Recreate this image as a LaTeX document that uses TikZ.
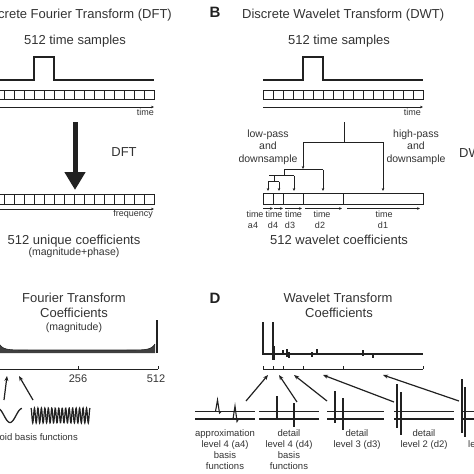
\documentclass[tikz,border=0pt]{standalone}
\usepackage{fontspec}
\setmainfont{Liberation Sans}
\usetikzlibrary{arrows.meta}
\definecolor{ink}{gray}{0.13}
\definecolor{txt}{gray}{0.2}
\begin{document}
\begin{tikzpicture}[x=1pt,y=-1pt,
  every node/.style={inner sep=0pt, text=txt},
  tx13/.style={font=\fontsize{13}{15}\selectfont, anchor=base},
  tx11/.style={font=\fontsize{11}{13}\selectfont, anchor=base},
  tx105/.style={font=\fontsize{10.5}{12}\selectfont, anchor=base},
  tx95/.style={font=\fontsize{9.5}{11}\selectfont, anchor=base},
  tx9/.style={font=\fontsize{9}{10}\selectfont, anchor=base},
  panellbl/.style={font=\fontsize{15}{17}\selectfont\bfseries, anchor=base, text=ink},
  wire/.style={draw=ink, line width=1.2pt},
  tline/.style={draw=ink, line width=0.8pt},
  cell/.style={draw=ink, line width=0.8pt},
  tip/.style={-{Stealth[length=3pt,width=2.6pt]}},
  ptr/.style={draw=ink, line width=1.2pt, -{Stealth[length=5pt,width=4pt]}},
  spk/.style={draw=ink, line width=1.3pt},
  core/.style={draw=ink, line width=2.8pt},
]
\useasboundingbox (0,0) rectangle (474,474);
\clip (0,0) rectangle (474,474);

% ---------------- Panel A ----------------
\node[tx13, anchor=base east] (tA) at (172,18.5) {Discrete Fourier Transform (DFT)};
\node[panellbl] (lB) at (215,17) {B};
\node[tx13] (sA) at (75,44.5) {512 time samples};
\draw[wire] (-6,80) -- (34,80) -- (34,57) -- (54,57) -- (54,80) -- (154,80);
\foreach \i in {0,...,15} \draw[cell] ({-6+10*\i},90) rectangle ++(10,9);
\coordinate (tA0) at (-6,107); \coordinate (tA1) at (154,107);
\draw[tline, tip] (tA0) -- (tA1);
\node[tx9, anchor=base east] (timeA) at (154,115) {time};

\coordinate (dftS) at (75,122); \coordinate (dftE) at (75,190);
\draw[ink, line width=5pt, -{Triangle[length=18pt,width=20pt]}] (dftS) -- (dftE);
\node[tx13] (dftL) at (124,156.5) {DFT};

\foreach \i in {0,...,15} \draw[cell] ({-6+10*\i},194) rectangle ++(10,10);
\coordinate (fA0) at (-6,209); \coordinate (fA1) at (154,209);
\draw[tline, tip] (fA0) -- (fA1);
\node[tx9, anchor=base east] (freqA) at (153,216.5) {frequency};

\node[tx13] (ucA) at (74,244.5) {512 unique coefficients};
\node[tx105] (mpA) at (74,255.5) {(magnitude+phase)};

% ---------------- Panel C ----------------
\node[tx13] (ftC) at (74,302.5) {Fourier Transform};
\node[tx13] (coC) at (74,317) {Coefficients};
\node[tx105] (mgC) at (74,330.5) {(magnitude)};
\fill[black!75] (-6,353) -- plot[domain=-6:155,samples=120] (\x,{350 - 5*exp(-(\x)/4) - 6*exp(-(155-\x)/4)}) -- (155,353) -- cycle;
\draw[ink, line width=0.6pt] plot[domain=-6:155,samples=120] (\x,{350 - 5*exp(-(\x)/4) - 6*exp(-(155-\x)/4)});
\draw[ink, line width=1.2pt] (157,353) -- (157,320);
\draw[tline] (-6,369) -- (158,369);
\draw[tline] (78,369) -- (78,366);
\draw[tline] (158,369) -- (158,366);
\node[tx11] (n256) at (78,382) {256};
\node[tx11] (n512) at (156,382) {512};
\coordinate (cA1) at (4,400); \coordinate (cA2) at (7,376);
\coordinate (cB1) at (33,400); \coordinate (cB2) at (19,376);
\draw[ptr] (cA1) -- (cA2);
\draw[ptr] (cB1) -- (cB2);
\draw[ink, line width=1.3pt] plot[domain=-4:22,samples=60] (\x,{415.5 - 7*cos(15*(\x-22))});
\draw[ink, line width=1.2pt] plot[domain=31:90,samples=240] (\x,{415.5 - 7.5*cos(103.75*(\x-31))});
\node[tx95, anchor=base east] (sbf) at (78,440) {sinusoid basis functions};

% ---------------- Panel B ----------------
\node[tx13, anchor=base west] (tB) at (242,18.5) {Discrete Wavelet Transform (DWT)};
\node[tx13] (sB) at (339,44.5) {512 time samples};
\draw[wire] (263,80) -- (303,80) -- (303,57) -- (323,57) -- (323,80) -- (423,80);
\foreach \i in {0,...,15} \draw[cell] ({263+10*\i},90) rectangle ++(10,9);
\coordinate (tB0) at (263,107); \coordinate (tB1) at (423,107);
\draw[tline, tip] (tB0) -- (tB1);
\node[tx9, anchor=base east] (timeB) at (421,115) {time};

% tree
\coordinate (r0) at (344,122); \coordinate (r1) at (344,142);
\draw[tline] (r0) -- (r1);
\draw[tline] (303,142) -- (383,142);
\draw[tline, tip] (383,142) -- (383,191);
\draw[tline, tip] (303,142) -- (303,169);
\draw[tline] (284,169.5) -- (323,169.5);
\draw[tline, tip] (323,169.5) -- (323,191);
\draw[tline] (284,169.5) -- (284,175.5);
\draw[tline] (269,175.5) -- (294,175.5);
\draw[tline, tip] (294,175.5) -- (294,191);
\draw[tline] (274,175.5) -- (274,181.5);
\draw[tline] (268,181.5) -- (279,181.5);
\draw[tline, tip] (268,181.5) -- (268,191);
\draw[tline, tip] (279,181.5) -- (279,191);

\node[tx105] (lp1) at (268,137) {low-pass};
\node[tx105] (lp2) at (268,149.5) {and};
\node[tx105] (lp3) at (268,162) {downsample};
\node[tx105] (hp1) at (416,137) {high-pass};
\node[tx105] (hp2) at (416,149.5) {and};
\node[tx105] (hp3) at (416,162) {downsample};
\node[tx13, anchor=base west] (dwtL) at (459,157) {DWT};

% coefficient boxes
\draw[cell] (263,193) rectangle (273,204);
\draw[cell] (273,193) rectangle (283,204);
\draw[cell] (283,193) rectangle (303,204);
\draw[cell] (303,193) rectangle (343,204);
\draw[cell] (343,193) rectangle (423,204);
\draw[tline, line width=0.6pt, tip] (263,208.5) -- (273,208.5);
\draw[tline, line width=0.6pt, tip] (274,208.5) -- (283,208.5);
\draw[tline, line width=0.6pt, tip] (285,208.5) -- (302,208.5);
\draw[tline, line width=0.6pt, tip] (305,208.5) -- (342,208.5);
\draw[tline, line width=0.6pt, tip] (347,208.5) -- (420,208.5);
\node[tx9] (ta4) at (255,217.5) {time};
\node[tx9] (td4) at (274,217.5) {time};
\node[tx9] (td3) at (293.5,217.5) {time};
\node[tx9] (td2) at (322,217.5) {time};
\node[tx9] (td1) at (384,217.5) {time};
\node[tx9] (la4) at (253,228.5) {a4};
\node[tx9] (ld4) at (273,228.5) {d4};
\node[tx9] (ld3) at (290,228.5) {d3};
\node[tx9] (ld2) at (320,228.5) {d2};
\node[tx9] (ld1) at (383,228.5) {d1};
\node[tx13] (wcB) at (339,244.5) {512 wavelet coefficients};

% ---------------- Panel D ----------------
\node[panellbl] (lD) at (215,303) {D};
\node[tx13] (wtD) at (338,302.5) {Wavelet Transform};
\node[tx13] (coD) at (339,317.5) {Coefficients};
\draw[ink, line width=1.2pt] (263,322) -- (263,354) -- (423,354);
\draw[ink, line width=1.3pt] (273,322) -- (273,360);
\draw[ink, line width=2.6pt] (273.6,346) -- (273.6,360);
\foreach \x/\a/\b in {283/350/355, 287/349/357, 289/352/358, 312/352/357, 317/349/355, 363/350/356, 373/353/358}
  \draw[ink, line width=1.2pt] (\x,\a) -- (\x,\b);
\draw[tline] (263,369) -- (423,369);
\foreach \x in {263,273,283,303,343,423} \draw[tline] (\x,369) -- (\x,366);

% arrows from basis functions
\coordinate (a4t) at (246,401); \coordinate (a4h) at (268,375);
\coordinate (d4t) at (297,402); \coordinate (d4h) at (279,375);
\coordinate (d3t) at (327,401); \coordinate (d3h) at (294,375);
\coordinate (d2t) at (394,402); \coordinate (d2h) at (323,375);
\coordinate (d1t) at (459,401); \coordinate (d1h) at (383,375);
\draw[ptr] (a4t) -- (a4h);
\draw[ptr] (d4t) -- (d4h);
\draw[ptr] (d3t) -- (d3h);
\draw[ptr] (d2t) -- (d2h);
\draw[ptr] (d1t) -- (d1h);

% basis function groups
\foreach \a/\b in {195/255, 259/319, 327/384, 394/454, 461/480} {
  \draw[spk] (\a,411.5) -- (\b,411.5);
  \draw[spk] (\a,419) -- (\b,419);
}
% a4
\draw[ink, line width=1.1pt] (215.5,411.5) -- (217.5,400) -- (219.5,413) -- (221,411.5);
\draw[ink, line width=1.1pt] (233,419) -- (235,406) -- (237,421.5) -- (238.5,419);
% d4
\draw[spk] (277,396) -- (277,420);  \draw[core] (277,408) -- (277,420);
\draw[spk] (294,403) -- (294,427);  \draw[core] (294,415) -- (294,427);
% d3
\draw[spk] (335,391) -- (335,423);  \draw[core] (335,406) -- (335,415);
\draw[spk] (343,398) -- (343,430);  \draw[core] (343,414) -- (343,423);
% d2
\draw[spk] (397,384) -- (397,428);  \draw[core] (397,407) -- (397,414);
\draw[spk] (401,392) -- (401,435);  \draw[core] (401,415) -- (401,421);
% d1
\draw[spk] (462,379) -- (462,433);  \draw[core] (462,407) -- (462,413);
\draw[spk] (465,387) -- (465,437);  \draw[core] (465,415) -- (465,421);

\node[tx95] (ga1) at (225,436) {approximation};
\node[tx95] (ga2) at (225,447) {level 4 (a4)};
\node[tx95] (ga3) at (225,458.5) {basis};
\node[tx95] (ga4) at (225,469.5) {functions};
\node[tx95] (gb1) at (289,436) {detail};
\node[tx95] (gb2) at (289,447) {level 4 (d4)};
\node[tx95] (gb3) at (289,458.5) {basis};
\node[tx95] (gb4) at (289,469.5) {functions};
\node[tx95] (gc1) at (357,436) {detail};
\node[tx95] (gc2) at (357,447) {level 3 (d3)};
\node[tx95] (gd1) at (424,436) {detail};
\node[tx95] (gd2) at (424,447) {level 2 (d2)};
\node[tx95, anchor=base west] (ge2) at (468,447) {level 1 (d1)};
\end{tikzpicture}
\end{document}
